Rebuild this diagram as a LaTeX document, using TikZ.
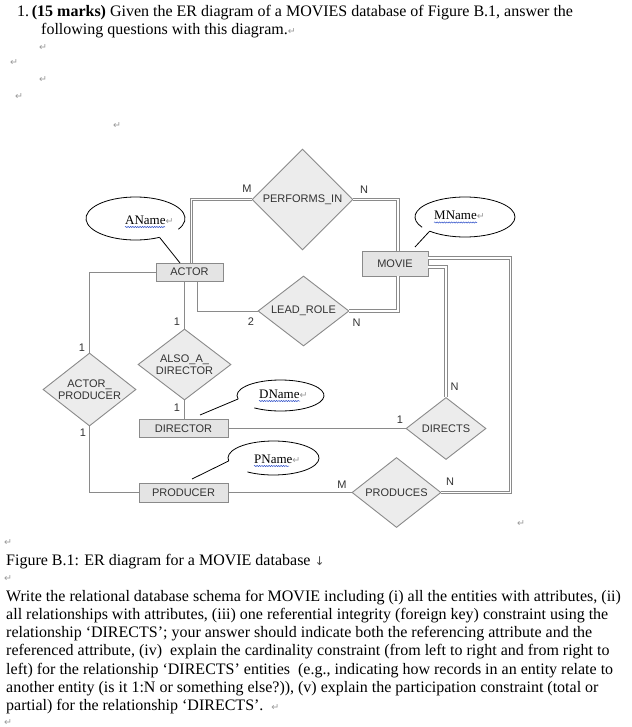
\documentclass[tikz,border=0pt]{standalone}
\usepackage{fontspec}
\setmainfont{Liberation Serif}
\setsansfont{Liberation Sans}
\newfontfamily\symfont{DejaVu Sans}
\usetikzlibrary{shapes.geometric,decorations.pathmorphing}
\definecolor{erline}{HTML}{8A8A8A}
\definecolor{erbox}{HTML}{E4E4E4}
\definecolor{erdia}{HTML}{ECECEC}
\definecolor{pmgray}{HTML}{9A9A9A}
\definecolor{spell}{HTML}{2E4FC9}
\newcommand{\pmark}{{\symfont\fontsize{9.5}{9.5}\selectfont\textcolor{pmgray}{↵}}}
\tikzset{
  entity/.style={rectangle, draw=erline, fill=erbox, line width=0.9pt, inner sep=0pt, font=\sffamily\fontsize{11}{12}\selectfont, text=black!80},
  relship/.style={diamond, draw=erline, fill=erdia, line width=0.9pt, inner sep=0pt, align=center, font=\sffamily\fontsize{11}{12}\selectfont, text=black!80},
  card/.style={inner sep=0pt, font=\sffamily\fontsize{11}{12}\selectfont, text=black!80},
  link/.style={draw=erline, line width=1pt},
  dbl/.style={draw=erline, line width=0.8pt, double=white, double distance=1.8pt, line join=miter},
  callout/.style={draw=black, line width=0.8pt},
  attr/.style={anchor=base west, inner sep=0pt, font=\fontsize{13}{14}\selectfont},
  squiggle/.style={draw=spell, line width=0.5pt, decorate, decoration={snake, amplitude=0.6pt, segment length=2.4pt}},
  body/.style={anchor=base west, inner sep=0pt, font=\fontsize{16}{18}\selectfont},
  pm/.style={inner sep=0pt}
}
\begin{document}
\begin{tikzpicture}[x=1pt,y=-1pt]
\path[use as bounding box, fill=white] (0,0) rectangle (631,727);
% question text
\node[body] (q1) at (17,17) {1.\,\textbf{(15 marks)} Given the ER diagram of a MOVIES database of Figure B.1, answer the};
\node[body] (q2) at (41,35) {following questions with this diagram.\pmark};
\node[pm] (r1) at (43,48) {\pmark};
\node[pm] (r2) at (14,63) {\pmark};
\node[pm] (r3) at (43,80) {\pmark};
\node[pm] (r4) at (19,97) {\pmark};
\node[pm] (r5) at (117,126) {\pmark};
% entities
\node[entity, minimum width=67pt, minimum height=18pt] (actor) at (189.5,272) {ACTOR};
\node[entity, minimum width=66pt, minimum height=25pt] (movie) at (395,263.5) {MOVIE};
\node[entity, minimum width=89pt, minimum height=18pt] (director) at (183.5,428.5) {DIRECTOR};
\node[entity, minimum width=89pt, minimum height=19pt] (producer) at (183.5,492.5) {PRODUCER};
% relationships
\node[relship, minimum width=101pt, minimum height=101pt, aspect=1] (performs) at (302.5,199.5) {PERFORMS\_IN};
\node[relship, minimum width=91pt, minimum height=70pt, aspect=1.3] (leadrole) at (303.5,311) {LEAD\_ROLE};
\node[relship, minimum width=93pt, minimum height=71pt, aspect=1.3, font=\sffamily\fontsize{11}{11.5}\selectfont] (alsodir) at (184.5,364.5) {ALSO\_A\_\\DIRECTOR};
\node[relship, minimum width=93pt, minimum height=73pt, aspect=1.27] (actprod) at (89.5,389.5) {ACTOR\_\\PRODUCER};
\node[relship, minimum width=80pt, minimum height=62pt, aspect=1.29] (directs) at (446,428.5) {DIRECTS};
\node[relship, minimum width=89pt, minimum height=70pt, aspect=1.27] (produces) at (396.5,492.5) {PRODUCES};
% connectors
\draw[dbl] ([xshift=2pt]actor.north) |- (performs.west);
\draw[dbl] ([xshift=3pt]movie.north) |- (performs.east);
\draw[link] ([xshift=8pt]actor.south) |- (leadrole.west);
\draw[dbl] ([xshift=3pt]movie.south) |- (leadrole.east);
\draw[link] (actor.south -| alsodir.north) -- (alsodir.north);
\draw[link] (alsodir.south) -- (alsodir.south |- director.north);
\draw[link] (director.east) -- (directs.west);
\draw[dbl] ([yshift=-3.5pt]movie.east) -| (directs.north);
\draw[dbl] ([yshift=5.5pt]movie.east) -| ([xshift=69pt]produces.east) -- (produces.east);
\draw[link] (producer.east) -- (produces.west);
\draw[link] (actor.west) -| (actprod.north);
\draw[link] (actprod.south) |- (producer.west);
% cardinalities
\node[card] (perfM) at (247,189) {M};
\node[card] (perfN) at (364,190) {N};
\node[card] (leadOne) at (177,321.5) {1};
\node[card] (leadTwo) at (251,322) {2};
\node[card] (leadN) at (356.5,323) {N};
\node[card] (apTop) at (82,348) {1};
\node[card] (adBot) at (177,407.5) {1};
\node[card] (apBot) at (83,433) {1};
\node[card] (dirN) at (454.5,387) {N};
\node[card] (dirOne) at (400,420) {1};
\node[card] (prodM) at (342,485) {M};
\node[card] (prodN) at (450,482) {N};
% attributes
\coordinate (anameC) at (135.5,218.5);
\coordinate (anameTip) at (180,263);
\draw[callout] (anameC) ++(-30:49.5pt and 21.5pt) arc[start angle=-30, end angle=299, x radius=49.5pt, y radius=21.5pt];
\draw[callout] (anameC) ++(-61:49.5pt and 21.5pt) -- (anameTip);
\node[attr] (aname) at (125,224) {AName\pmark};
\draw[squiggle] (125,227) -- (165,227);
\coordinate (mnameC) at (465,217);
\coordinate (mnameTip) at (415,247);
\draw[callout] (mnameC) ++(225:50pt and 20pt) arc[start angle=225, end angle=571, x radius=50pt, y radius=20pt];
\draw[callout] (mnameC) ++(225:50pt and 20pt) -- (mnameTip);
\node[attr] (mname) at (434,219.5) {MName\pmark};
\draw[squiggle] (434,222.5) -- (477,222.5);
\coordinate (dnameC) at (280.5,395.5);
\coordinate (dnameTip) at (200,415);
\draw[callout] (dnameC) ++(233:43.5pt and 15.5pt) arc[start angle=233, end angle=553, x radius=43.5pt, y radius=15.5pt];
\draw[callout] (dnameC) ++(193:43.5pt and 15.5pt) -- (dnameTip);
\node[attr] (dname) at (259,398) {DName\pmark};
\draw[squiggle] (259,401) -- (300,401);
\coordinate (pnameC) at (273.5,458);
\coordinate (pnameTip) at (192,479);
\draw[callout] (pnameC) ++(235:45.5pt and 17pt) arc[start angle=235, end angle=550, x radius=45.5pt, y radius=17pt];
\draw[callout] (pnameC) ++(190:45.5pt and 17pt) -- (pnameTip);
\node[attr] (pname) at (254,463) {PName\pmark};
\draw[squiggle] (254,466) -- (289,466);
\node[pm] (r6) at (521,524) {\pmark};
% caption and question
\node[pm] (r7) at (8,542.5) {\pmark};
\node[body] (cap) at (6,565) {Figure B.1: ER diagram for a MOVIE database {\symfont\fontsize{12}{12}\selectfont\textcolor{black!70}{↓}}};
\node[pm] (r8) at (8,579) {\pmark};
\node[body] (p1) at (6,601) {Write the relational database schema for MOVIE including (i) all the entities with attributes, (ii)};
\node[body] (p2) at (6,619.3) {all relationships with attributes, (iii) one referential integrity (foreign key) constraint using the};
\node[body] (p3) at (6,637.6) {relationship ‘DIRECTS’; your answer should indicate both the referencing attribute and the};
\node[body] (p4) at (6,655.9) {referenced attribute, (iv)\ \ explain the cardinality constraint (from left to right and from right to};
\node[body] (p5) at (6,674.2) {left) for the relationship ‘DIRECTS’ entities\ \ (e.g., indicating how records in an entity relate to};
\node[body] (p6) at (6,692.5) {another entity (is it 1:N or something else?)), (v) explain the participation constraint (total or};
\node[body] (p7) at (6,710.8) {partial) for the relationship ‘DIRECTS’.\ \ \pmark};
\node[pm] (r9) at (8,723) {\pmark};
\end{tikzpicture}
\end{document}
